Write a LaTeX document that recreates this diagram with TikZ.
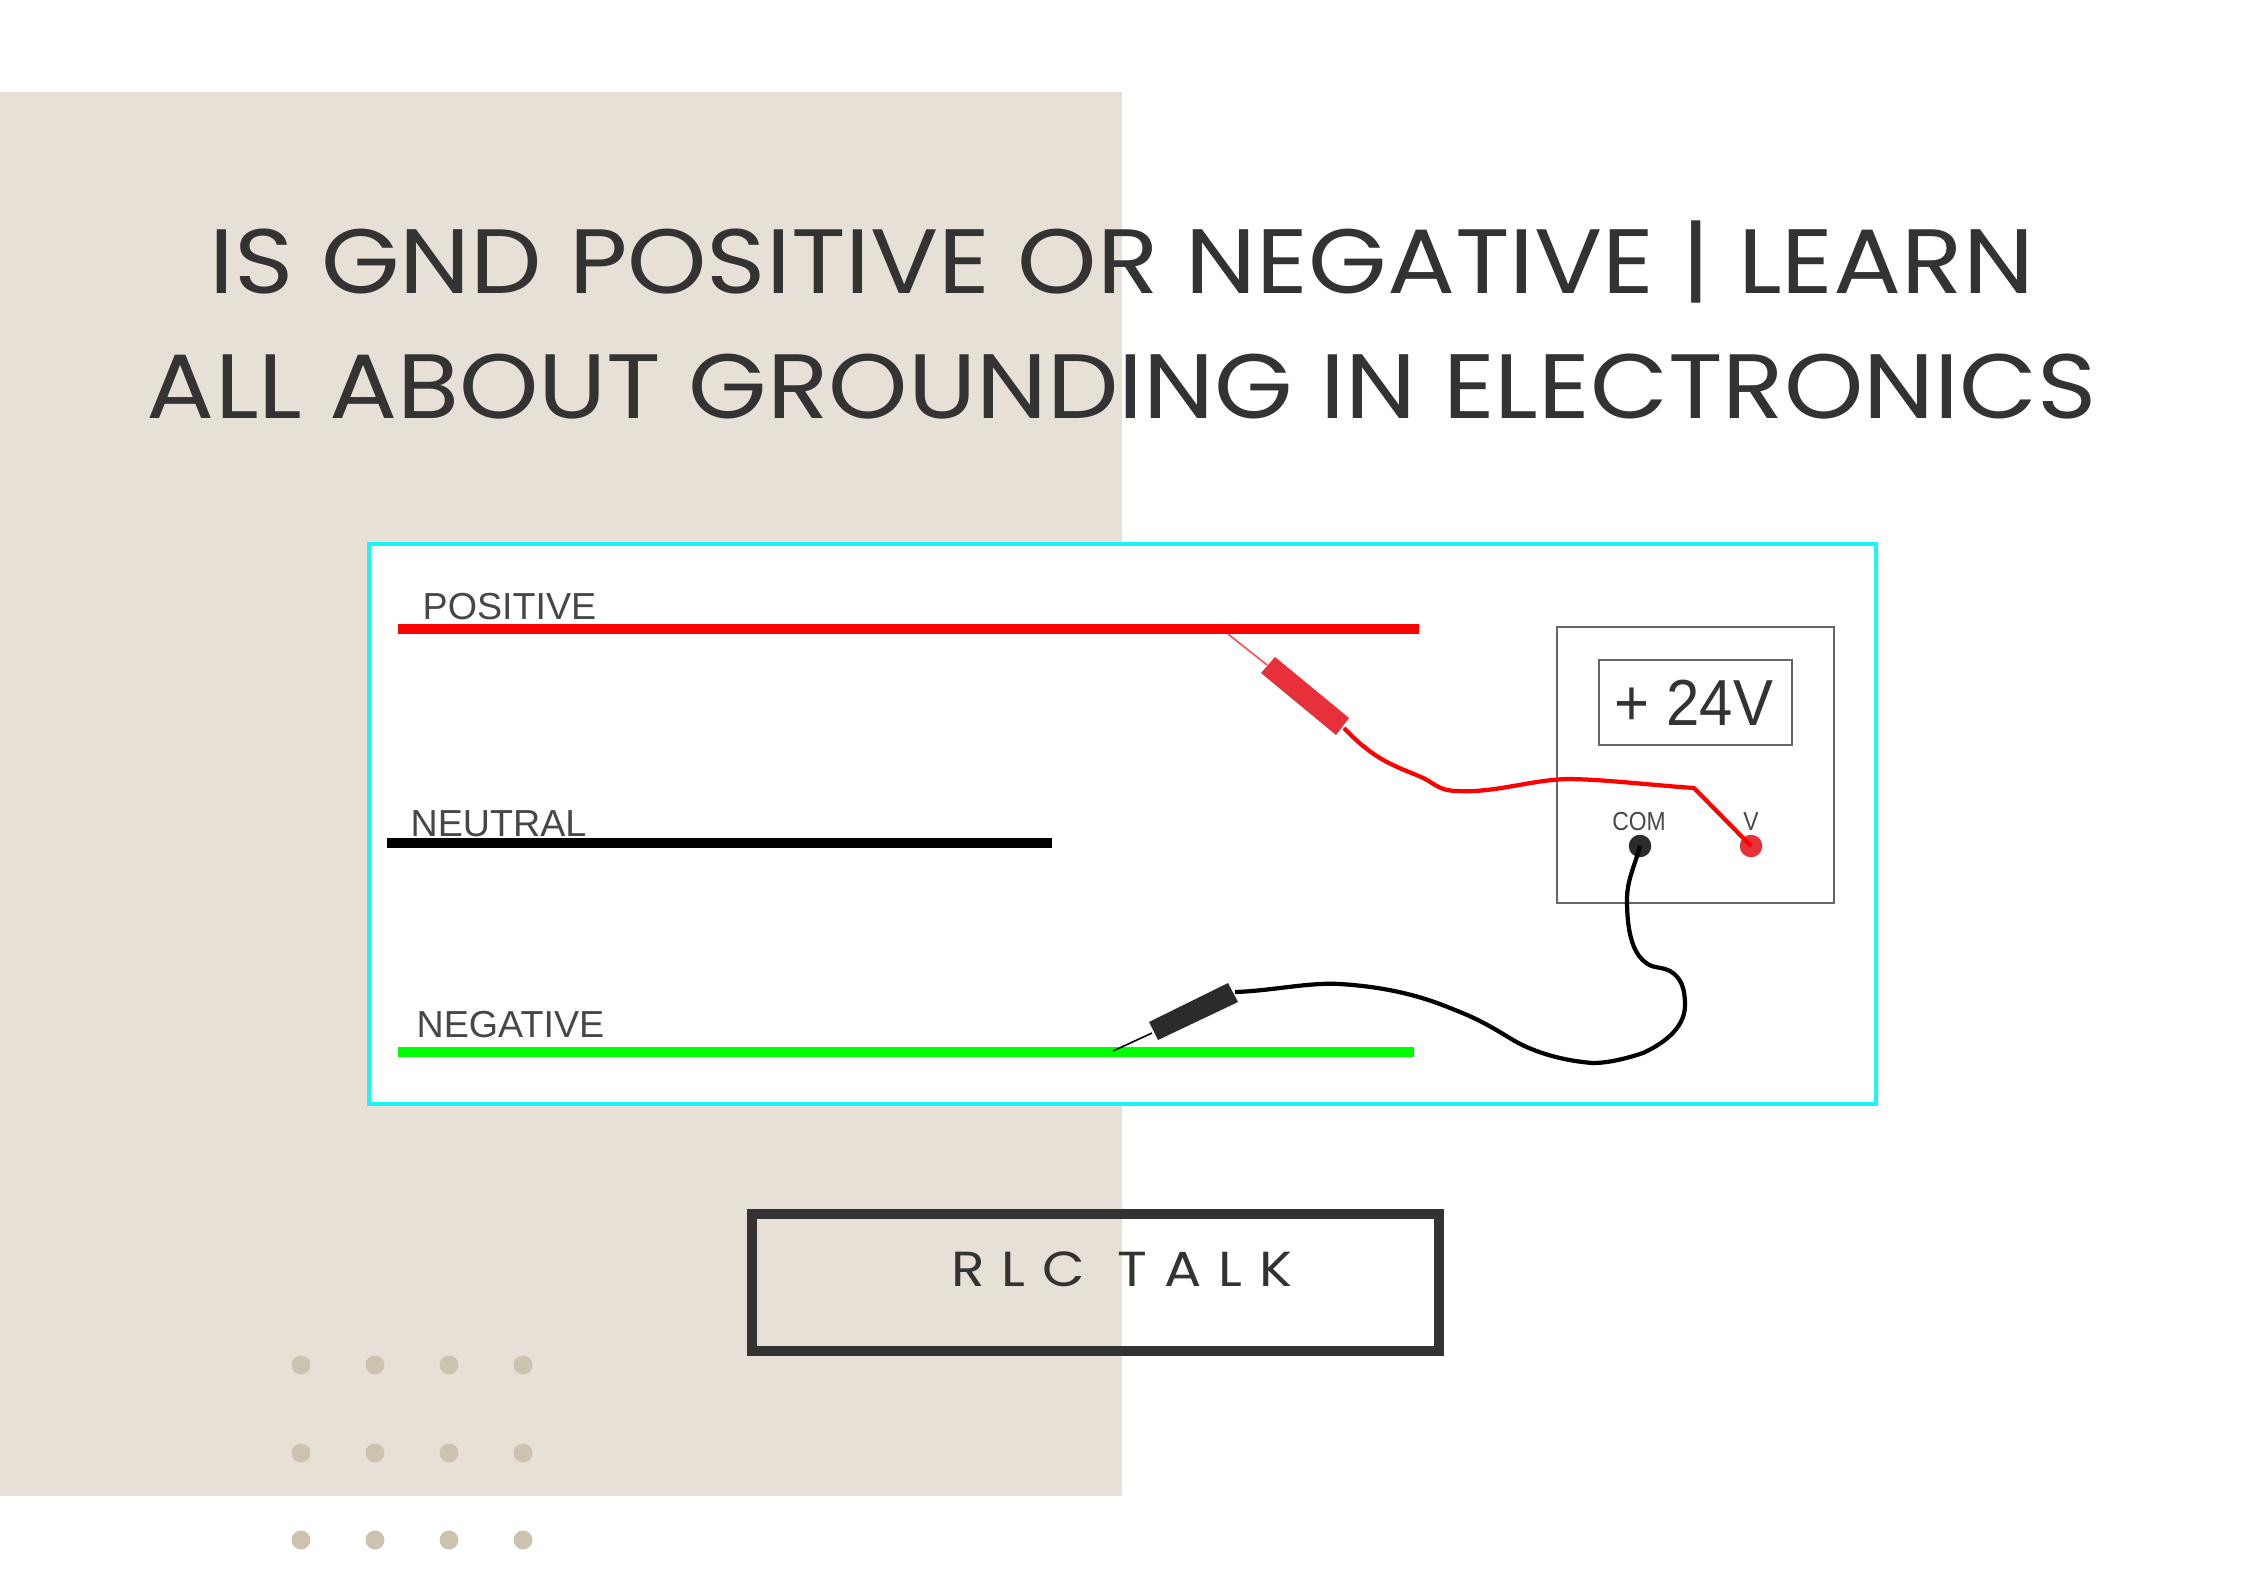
\documentclass[tikz,border=0pt]{standalone}
\usepackage{fontspec}
\setmainfont{Poppins}
\newfontfamily\titlefont{Poppins}[FakeStretch=1.105]
\newfontfamily\brandfont{Poppins}[FakeStretch=1.12,LetterSpace=35]
\newfontfamily\wirefont{Liberation Sans}
\newfontfamily\meterfont{Liberation Sans}[FakeStretch=.92]
\newfontfamily\portfont{Liberation Sans}[FakeStretch=.88]
\definecolor{PanelClr}{HTML}{E6E0D6}
\definecolor{DotClr}{HTML}{CDC2B0}
\definecolor{InkClr}{HTML}{333333}
\definecolor{FrameClr}{HTML}{1CF5F5}
\definecolor{MeterClr}{HTML}{666666}
\definecolor{LeadClr}{HTML}{E8303A}
\definecolor{ProbeClr}{HTML}{2B2B2B}
\tikzset{
  railline/.style={line width=2.9pt},
  raillabel/.style={text=InkClr!90,font=\wirefont\fontsize{10.7}{13}\selectfont,inner sep=0pt},
  portlabel/.style={text=InkClr!90,inner sep=0pt,font=\portfont\fontsize{7.4}{9}\selectfont},
  titletext/.style={text=InkClr,inner sep=0pt,font=\titlefont\fontsize{26}{30}\selectfont},
  meterline/.style={draw=MeterClr,line width=.75pt},
  wireline/.style={line width=1.2pt,line join=round},
  decodot/.style={circle,fill=DotClr,inner sep=0pt,minimum size=5.4pt},
  plugdot/.style={circle,inner sep=0pt,minimum size=6.4pt}
}
\begin{document}
\begin{tikzpicture}[x=.01cm,y=-.01cm]
\useasboundingbox (0,0) rectangle (2245,1587);
\fill[white] (0,0) rectangle (2245,1587);
\fill[PanelClr] (0,92) rectangle (1122,1496);

\node[titletext] (title1) at (1122,262) {IS GND POSITIVE OR NEGATIVE | LEARN};
\node[titletext] (title2) at (1122,387) {ALL ABOUT GROUNDING IN ELECTRONICS};

% picture frame
\draw[draw=FrameClr,line width=1.2pt,fill=white] (369,544) rectangle (1876,1104);

\draw[railline,red] (398,629) -- (1419,629);
\draw[railline,black] (387,843) -- (1052,843);
\draw[railline,green] (398,1052) -- (1414,1052);
\node[raillabel,anchor=west] (poslabel) at (422,607) {POSITIVE};
\node[raillabel,anchor=west] (neulabel) at (410,824) {NEUTRAL};
\node[raillabel,anchor=west] (neglabel) at (416,1025) {NEGATIVE};

% meter
\draw[meterline] (1557,627) rectangle (1834,903);
\draw[meterline] (1599,660) rectangle (1792,745);
\node[text=InkClr,inner sep=0pt,font=\meterfont\fontsize{18.5}{20}\selectfont] (reading) at (1694,703) {+ 24V};
\node[portlabel] (comlabel) at (1639,822) {COM};
\node[portlabel] (vlabel) at (1751,822) {V};

\node[plugdot,fill=ProbeClr] (complug) at (1640,846) {};
\node[plugdot,fill=LeadClr] (vplug) at (1751,846) {};

% red lead
\coordinate (redtip) at (1228,634);
\coordinate (redback) at (1344,728);
\draw[red!70!white,line width=.45pt] (redtip) -- (1267,665);
\fill[LeadClr] (1275,657) -- (1349,718) -- (1336,735) -- (1261,673) -- cycle;
\draw[wireline,red] (redback) .. controls (1358,743) and (1375,757) .. (1393,765)
  .. controls (1405,771) and (1418,775) .. (1427,780)
  .. controls (1437,786) and (1442,791) .. (1458,791)
  .. controls (1495,793) and (1530,780) .. (1567,779)
  .. controls (1600,779) and (1650,785) .. (1694,788) -- (vplug.center);

% black lead
\coordinate (blackback) at (1235,992);
\coordinate (blacktip) at (1113,1051);
\draw[black,line width=.45pt] (blacktip) -- (1152,1033);
\fill[ProbeClr] (1149,1022) -- (1228,983) -- (1238,1002) -- (1158,1040) -- cycle;
\draw[wireline,black] (complug.center) .. controls (1634,868) and (1627,880) .. (1627,900)
  .. controls (1627,930) and (1632,952) .. (1645,962)
  .. controls (1653,969) and (1660,966) .. (1670,971)
  .. controls (1682,978) and (1685,990) .. (1685,1005)
  .. controls (1685,1030) and (1660,1045) .. (1643,1053)
  .. controls (1625,1059) and (1607,1063) .. (1593,1063)
  .. controls (1565,1061) and (1535,1053) .. (1513,1040)
  .. controls (1495,1029) and (1480,1020) .. (1460,1012)
  .. controls (1440,1004) and (1405,988) .. (1340,984)
  .. controls (1310,982) and (1270,991) .. (blackback);

% button
\draw[draw=InkClr,line width=2.85pt] (752,1214) rectangle (1439,1351);
\node[text=InkClr,inner sep=0pt,font=\brandfont\fontsize{14}{16}\selectfont] (brand) at (1122,1269) {RLC TALK};

% dots
\foreach \row in {1365,1453,1540}
  \foreach \col in {301,375,449,523}
    \node[decodot] at (\col,\row) {};
\end{tikzpicture}
\end{document}
